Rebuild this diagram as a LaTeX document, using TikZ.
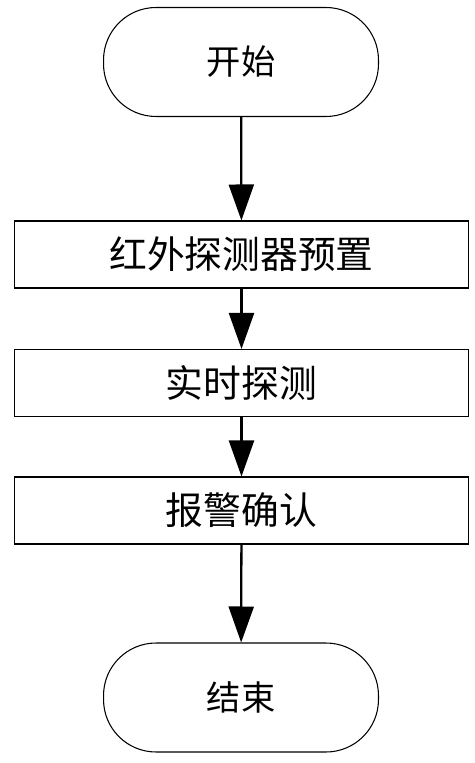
\documentclass[tikz,border=0pt]{standalone}
\usepackage{fontspec}
\setmainfont{Noto Sans CJK SC}
\usetikzlibrary{arrows.meta}
\tikzset{
  terminal/.style={draw, line width=0.6pt, rounded corners=1.05cm, minimum width=5.5cm, minimum height=2.18cm, font=\fontsize{19.5}{22}\selectfont, inner sep=0pt},
  procbox/.style={draw, line width=0.6pt, minimum width=9.1cm, minimum height=1.34cm, font=\fontsize{21.5}{24}\selectfont, inner sep=0pt},
  flow/.style={line width=1.3pt, -{Triangle[width=0.5cm,length=0.72cm]}}
}
\begin{document}
\begin{tikzpicture}[x=0.02cm, y=-0.02cm]
\useasboundingbox (0,0) rectangle (474,763);
\node[terminal] (start) at (241,62) {开始};
\node[procbox] (p1) at (241.5,254.5) {红外探测器预置};
\node[procbox] (p2) at (241.5,383) {实时探测};
\node[procbox] (p3) at (241.5,510.5) {报警确认};
\node[terminal] (end) at (241,697.5) {结束};
\draw[flow] (start) -- (p1);
\draw[flow] (p1) -- (p2);
\draw[flow] (p2) -- (p3);
\draw[flow] (p3) -- (end);
\end{tikzpicture}
\end{document}
